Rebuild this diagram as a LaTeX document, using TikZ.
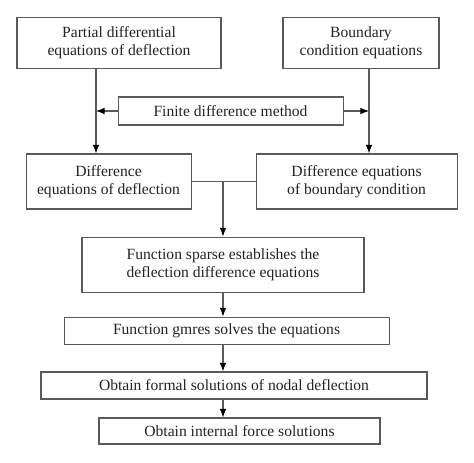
\documentclass[tikz,border=0pt]{standalone}
\usepackage{fontspec}
\setmainfont{Liberation Serif}
\usepackage{tikz}
\definecolor{boxgray}{RGB}{90, 90, 90}
\definecolor{textgray}{RGB}{35, 35, 35}
\usetikzlibrary{shapes,arrows,arrows.meta}
\tikzstyle{block} = [rectangle, draw=boxgray, line width=0.8pt, text=textgray,
    align=center, inner sep=0pt, font=\fontsize{11.7}{13.6}\selectfont]
\tikzstyle{line} = [draw=boxgray, line width=0.8pt, -{Latex[length=6.5pt,width=5pt,black]}]
\tikzstyle{joinline} = [draw=boxgray, line width=0.8pt]

\begin{document}
\begin{tikzpicture}[node distance = 3cm, auto]
  \useasboundingbox (0,0) rectangle (355.5pt,-346.5pt);
  \node [block, minimum width=153pt, minimum height=38.25pt] (pde) at (89.25pt,-31.9pt) {Partial differential\\equations of deflection};
  \node [block, right of=pde, node distance=181.5pt, minimum width=117pt, minimum height=38.25pt] (bc) {Boundary\\condition equations};
  \node [block, below of=pde, node distance=51.35pt, xshift=83.65pt, minimum width=168.75pt, minimum height=21pt] (fdm) {Finite difference method};
  \node [block, below of=pde, node distance=104.2pt, xshift=-7.85pt, minimum width=123.75pt, minimum height=41.25pt] (diff_defl) {Difference\\equations of deflection};
  \node [block, below of=bc, node distance=104.2pt, xshift=-3.35pt, minimum width=150.75pt, minimum height=41.25pt] (diff_bc) {Difference equations\\of boundary condition};
  \node [block, below of=fdm, node distance=115.15pt, xshift=-5.65pt, minimum width=211.5pt, minimum height=41.25pt] (sparse) {Function sparse establishes the\\deflection difference equations};
  \node [block, below of=sparse, node distance=49.5pt, xshift=2.65pt, minimum width=243.75pt, minimum height=20.25pt] (gmres) {Function gmres solves the equations};
  \node [block, below of=gmres, node distance=41.2pt, xshift=5.6pt, minimum width=289.5pt, minimum height=20.25pt] (formal) {Obtain formal solutions of nodal deflection};
  \node [block, below of=formal, node distance=34.15pt, xshift=4.1pt, minimum width=210.75pt, minimum height=19.5pt] (force) {Obtain internal force solutions};
  % vertical guide lines
  \coordinate (left_x) at ([xshift=-17.25pt]pde.south);
  \coordinate (right_x) at ([xshift=6pt]bc.south);
  \coordinate (mid) at (diff_defl.east -| sparse.north);
  \path [line] (pde.south -| left_x) -- (diff_defl.north -| left_x);
  \path [line] (bc.south -| right_x) -- (diff_bc.north -| right_x);
  \path [line] (fdm.west) -- (fdm.west -| left_x);
  \path [line] (fdm.east) -- (fdm.east -| right_x);
  \path [joinline] (diff_defl.east) -- (diff_bc.west);
  \path [line] (mid) -- (sparse.north);
  \path [line] (sparse.south) -- (gmres.north -| mid);
  \path [line] (gmres.south -| mid) -- (formal.north -| mid);
  \path [line] (formal.south -| mid) -- (force.north -| mid);
\end{tikzpicture}
\end{document}
